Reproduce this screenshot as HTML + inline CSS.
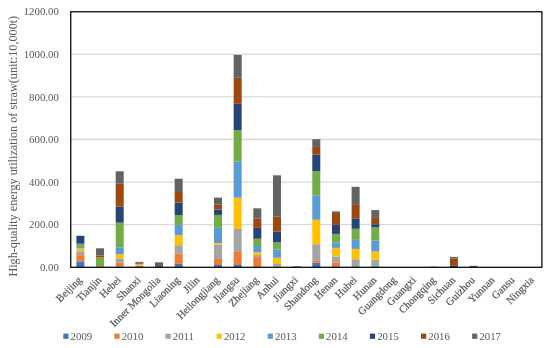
<!DOCTYPE html>
<html><head><meta charset="utf-8"><title>chart</title>
<style>
html,body{margin:0;padding:0;background:#fff;}
svg{display:block;}
text{font-family:"Liberation Serif",serif;fill:#595959;}
.xl text{fill:#555;stroke:#555;stroke-width:0.2px;}
</style></head><body>
<svg width="550" height="348" viewBox="0 0 550 348">
<rect x="0" y="0" width="550" height="348" fill="#fff"/>

<line x1="70.8" x2="541.9" y1="224.70" y2="224.70" stroke="#D9D9D9" stroke-width="1.3"/>
<line x1="70.8" x2="541.9" y1="182.10" y2="182.10" stroke="#D9D9D9" stroke-width="1.3"/>
<line x1="70.8" x2="541.9" y1="139.50" y2="139.50" stroke="#D9D9D9" stroke-width="1.3"/>
<line x1="70.8" x2="541.9" y1="96.90" y2="96.90" stroke="#D9D9D9" stroke-width="1.3"/>
<line x1="70.8" x2="541.9" y1="54.30" y2="54.30" stroke="#D9D9D9" stroke-width="1.3"/>
<rect x="76.38" y="261.40" width="8.0" height="5.80" fill="#4472C4"/>
<rect x="76.38" y="255.10" width="8.0" height="6.30" fill="#ED7D31"/>
<rect x="76.38" y="251.30" width="8.0" height="3.80" fill="#A5A5A5"/>
<rect x="76.38" y="248.30" width="8.0" height="3.00" fill="#FFC000"/>
<rect x="76.38" y="246.10" width="8.0" height="2.20" fill="#5B9BD5"/>
<rect x="76.38" y="243.70" width="8.0" height="2.40" fill="#70AD47"/>
<rect x="76.38" y="235.80" width="8.0" height="7.90" fill="#264478"/>
<rect x="96.04" y="266.00" width="8.0" height="1.20" fill="#ED7D31"/>
<rect x="96.04" y="257.50" width="8.0" height="8.50" fill="#70AD47"/>
<rect x="96.04" y="255.50" width="8.0" height="2.00" fill="#9E480E"/>
<rect x="96.04" y="248.30" width="8.0" height="7.20" fill="#636363"/>
<rect x="115.70" y="266.40" width="8.0" height="0.80" fill="#4472C4"/>
<rect x="115.70" y="262.70" width="8.0" height="3.70" fill="#ED7D31"/>
<rect x="115.70" y="258.80" width="8.0" height="3.90" fill="#A5A5A5"/>
<rect x="115.70" y="254.20" width="8.0" height="4.60" fill="#FFC000"/>
<rect x="115.70" y="247.30" width="8.0" height="6.90" fill="#5B9BD5"/>
<rect x="115.70" y="222.60" width="8.0" height="24.70" fill="#70AD47"/>
<rect x="115.70" y="206.60" width="8.0" height="16.00" fill="#264478"/>
<rect x="115.70" y="183.70" width="8.0" height="22.90" fill="#9E480E"/>
<rect x="115.70" y="171.30" width="8.0" height="12.40" fill="#636363"/>
<rect x="135.36" y="265.60" width="8.0" height="1.60" fill="#ED7D31"/>
<rect x="135.36" y="264.40" width="8.0" height="1.20" fill="#FFC000"/>
<rect x="135.36" y="263.60" width="8.0" height="0.80" fill="#5B9BD5"/>
<rect x="135.36" y="262.70" width="8.0" height="0.90" fill="#264478"/>
<rect x="135.36" y="261.90" width="8.0" height="0.80" fill="#9E480E"/>
<rect x="155.02" y="262.30" width="8.0" height="4.90" fill="#636363"/>
<rect x="174.68" y="263.80" width="8.0" height="3.40" fill="#4472C4"/>
<rect x="174.68" y="253.80" width="8.0" height="10.00" fill="#ED7D31"/>
<rect x="174.68" y="245.20" width="8.0" height="8.60" fill="#A5A5A5"/>
<rect x="174.68" y="235.20" width="8.0" height="10.00" fill="#FFC000"/>
<rect x="174.68" y="224.90" width="8.0" height="10.30" fill="#5B9BD5"/>
<rect x="174.68" y="215.00" width="8.0" height="9.90" fill="#70AD47"/>
<rect x="174.68" y="202.60" width="8.0" height="12.40" fill="#264478"/>
<rect x="174.68" y="192.00" width="8.0" height="10.60" fill="#9E480E"/>
<rect x="174.68" y="178.70" width="8.0" height="13.30" fill="#636363"/>
<rect x="214.00" y="265.00" width="8.0" height="2.20" fill="#4472C4"/>
<rect x="214.00" y="258.95" width="8.0" height="6.05" fill="#ED7D31"/>
<rect x="214.00" y="244.70" width="8.0" height="14.25" fill="#A5A5A5"/>
<rect x="214.00" y="243.00" width="8.0" height="1.70" fill="#FFC000"/>
<rect x="214.00" y="227.80" width="8.0" height="15.20" fill="#5B9BD5"/>
<rect x="214.00" y="214.90" width="8.0" height="12.90" fill="#70AD47"/>
<rect x="214.00" y="209.50" width="8.0" height="5.40" fill="#264478"/>
<rect x="214.00" y="204.65" width="8.0" height="4.85" fill="#9E480E"/>
<rect x="214.00" y="197.65" width="8.0" height="7.00" fill="#636363"/>
<rect x="233.66" y="265.00" width="8.0" height="2.20" fill="#4472C4"/>
<rect x="233.66" y="251.95" width="8.0" height="13.05" fill="#ED7D31"/>
<rect x="233.66" y="229.00" width="8.0" height="22.95" fill="#A5A5A5"/>
<rect x="233.66" y="197.65" width="8.0" height="31.35" fill="#FFC000"/>
<rect x="233.66" y="161.60" width="8.0" height="36.05" fill="#5B9BD5"/>
<rect x="233.66" y="130.25" width="8.0" height="31.35" fill="#70AD47"/>
<rect x="233.66" y="103.80" width="8.0" height="26.45" fill="#264478"/>
<rect x="233.66" y="77.80" width="8.0" height="26.00" fill="#9E480E"/>
<rect x="233.66" y="54.90" width="8.0" height="22.90" fill="#636363"/>
<rect x="253.32" y="257.10" width="8.0" height="10.10" fill="#ED7D31"/>
<rect x="253.32" y="255.10" width="8.0" height="2.00" fill="#A5A5A5"/>
<rect x="253.32" y="252.10" width="8.0" height="3.00" fill="#FFC000"/>
<rect x="253.32" y="246.00" width="8.0" height="6.10" fill="#5B9BD5"/>
<rect x="253.32" y="238.70" width="8.0" height="7.30" fill="#70AD47"/>
<rect x="253.32" y="227.90" width="8.0" height="10.80" fill="#264478"/>
<rect x="253.32" y="218.50" width="8.0" height="9.40" fill="#9E480E"/>
<rect x="253.32" y="208.30" width="8.0" height="10.20" fill="#636363"/>
<rect x="272.98" y="266.50" width="8.0" height="0.70" fill="#ED7D31"/>
<rect x="272.98" y="264.00" width="8.0" height="2.50" fill="#A5A5A5"/>
<rect x="272.98" y="257.70" width="8.0" height="6.30" fill="#FFC000"/>
<rect x="272.98" y="249.50" width="8.0" height="8.20" fill="#5B9BD5"/>
<rect x="272.98" y="242.40" width="8.0" height="7.10" fill="#70AD47"/>
<rect x="272.98" y="231.50" width="8.0" height="10.90" fill="#264478"/>
<rect x="272.98" y="216.70" width="8.0" height="14.80" fill="#9E480E"/>
<rect x="272.98" y="175.30" width="8.0" height="41.40" fill="#636363"/>
<rect x="292.64" y="266.60" width="8.0" height="0.60" fill="#FFC000"/>
<rect x="292.64" y="266.00" width="8.0" height="0.60" fill="#9E480E"/>
<rect x="312.30" y="262.60" width="8.0" height="4.60" fill="#4472C4"/>
<rect x="312.30" y="260.20" width="8.0" height="2.40" fill="#ED7D31"/>
<rect x="312.30" y="244.20" width="8.0" height="16.00" fill="#A5A5A5"/>
<rect x="312.30" y="219.70" width="8.0" height="24.50" fill="#FFC000"/>
<rect x="312.30" y="195.60" width="8.0" height="24.10" fill="#5B9BD5"/>
<rect x="312.30" y="171.10" width="8.0" height="24.50" fill="#70AD47"/>
<rect x="312.30" y="154.55" width="8.0" height="16.55" fill="#264478"/>
<rect x="312.30" y="146.95" width="8.0" height="7.60" fill="#9E480E"/>
<rect x="312.30" y="139.10" width="8.0" height="7.85" fill="#636363"/>
<rect x="331.96" y="262.30" width="8.0" height="4.90" fill="#ED7D31"/>
<rect x="331.96" y="256.50" width="8.0" height="5.80" fill="#A5A5A5"/>
<rect x="331.96" y="247.85" width="8.0" height="8.65" fill="#FFC000"/>
<rect x="331.96" y="242.40" width="8.0" height="5.45" fill="#5B9BD5"/>
<rect x="331.96" y="233.90" width="8.0" height="8.50" fill="#70AD47"/>
<rect x="331.96" y="224.90" width="8.0" height="9.00" fill="#264478"/>
<rect x="331.96" y="212.85" width="8.0" height="12.05" fill="#9E480E"/>
<rect x="331.96" y="211.30" width="8.0" height="1.55" fill="#636363"/>
<rect x="351.62" y="259.20" width="8.0" height="8.00" fill="#A5A5A5"/>
<rect x="351.62" y="248.90" width="8.0" height="10.30" fill="#FFC000"/>
<rect x="351.62" y="239.90" width="8.0" height="9.00" fill="#5B9BD5"/>
<rect x="351.62" y="228.80" width="8.0" height="11.10" fill="#70AD47"/>
<rect x="351.62" y="218.30" width="8.0" height="10.50" fill="#264478"/>
<rect x="351.62" y="204.90" width="8.0" height="13.40" fill="#9E480E"/>
<rect x="351.62" y="186.80" width="8.0" height="18.10" fill="#636363"/>
<rect x="371.28" y="259.55" width="8.0" height="7.65" fill="#A5A5A5"/>
<rect x="371.28" y="251.50" width="8.0" height="8.05" fill="#FFC000"/>
<rect x="371.28" y="240.60" width="8.0" height="10.90" fill="#5B9BD5"/>
<rect x="371.28" y="227.30" width="8.0" height="13.30" fill="#70AD47"/>
<rect x="371.28" y="224.20" width="8.0" height="3.10" fill="#264478"/>
<rect x="371.28" y="217.90" width="8.0" height="6.30" fill="#9E480E"/>
<rect x="371.28" y="210.10" width="8.0" height="7.80" fill="#636363"/>
<rect x="430.26" y="266.70" width="8.0" height="0.50" fill="#636363"/>
<rect x="449.92" y="265.30" width="8.0" height="1.90" fill="#264478"/>
<rect x="449.92" y="258.70" width="8.0" height="6.60" fill="#9E480E"/>
<rect x="449.92" y="256.90" width="8.0" height="1.80" fill="#636363"/>
<rect x="469.58" y="265.80" width="8.0" height="1.40" fill="#636363"/>
<rect x="70.75" y="11.75" width="471.15" height="255.55" fill="none" stroke="#000" stroke-width="1.25"/>
<text x="58.8" y="271.05" font-size="10.8" text-anchor="end">0.00</text>
<text x="58.8" y="228.45" font-size="10.8" text-anchor="end">200.00</text>
<text x="58.8" y="185.85" font-size="10.8" text-anchor="end">400.00</text>
<text x="58.8" y="143.25" font-size="10.8" text-anchor="end">600.00</text>
<text x="58.8" y="100.65" font-size="10.8" text-anchor="end">800.00</text>
<text x="58.8" y="58.05" font-size="10.8" text-anchor="end">1000.00</text>
<text x="58.8" y="15.45" font-size="10.8" text-anchor="end">1200.00</text>
<text transform="translate(16.6,146.2) rotate(-90)" font-size="12.2" text-anchor="middle">High-quality energy utilization of straw(unit:10,000t)</text>
<g class="xl">
<text transform="translate(82.38,280.70) rotate(-45)" font-size="10.6" text-anchor="end">Beijing</text>
<text transform="translate(102.04,280.70) rotate(-45)" font-size="10.6" text-anchor="end">Tianjin</text>
<text transform="translate(121.70,280.70) rotate(-45)" font-size="10.6" text-anchor="end">Hebei</text>
<text transform="translate(141.36,280.70) rotate(-45)" font-size="10.6" text-anchor="end">Shanxi</text>
<text transform="translate(161.02,280.70) rotate(-45)" font-size="10.6" text-anchor="end">Inner Mongolia</text>
<text transform="translate(180.68,280.70) rotate(-45)" font-size="10.6" text-anchor="end">Liaoning</text>
<text transform="translate(200.34,280.70) rotate(-45)" font-size="10.6" text-anchor="end">Jilin</text>
<text transform="translate(220.00,280.70) rotate(-45)" font-size="10.6" text-anchor="end">Heilongjiang</text>
<text transform="translate(239.66,280.70) rotate(-45)" font-size="10.6" text-anchor="end">Jiangsu</text>
<text transform="translate(259.32,280.70) rotate(-45)" font-size="10.6" text-anchor="end">Zhejiang</text>
<text transform="translate(278.98,280.70) rotate(-45)" font-size="10.6" text-anchor="end">Anhui</text>
<text transform="translate(298.64,280.70) rotate(-45)" font-size="10.6" text-anchor="end">Jiangxi</text>
<text transform="translate(318.30,280.70) rotate(-45)" font-size="10.6" text-anchor="end">Shandong</text>
<text transform="translate(337.96,280.70) rotate(-45)" font-size="10.6" text-anchor="end">Henan</text>
<text transform="translate(357.62,280.70) rotate(-45)" font-size="10.6" text-anchor="end">Hubei</text>
<text transform="translate(377.28,280.70) rotate(-45)" font-size="10.6" text-anchor="end">Hunan</text>
<text transform="translate(396.94,280.70) rotate(-45)" font-size="10.6" text-anchor="end">Guangdong</text>
<text transform="translate(416.60,280.70) rotate(-45)" font-size="10.6" text-anchor="end">Guangxi</text>
<text transform="translate(436.26,280.70) rotate(-45)" font-size="10.6" text-anchor="end">Chongqing</text>
<text transform="translate(455.92,280.70) rotate(-45)" font-size="10.6" text-anchor="end">Sichuan</text>
<text transform="translate(475.58,280.70) rotate(-45)" font-size="10.6" text-anchor="end">Guizhou</text>
<text transform="translate(495.24,280.70) rotate(-45)" font-size="10.6" text-anchor="end">Yunnan</text>
<text transform="translate(514.90,280.70) rotate(-45)" font-size="10.6" text-anchor="end">Gansu</text>
<text transform="translate(534.56,280.70) rotate(-45)" font-size="10.6" text-anchor="end">Ningxia</text>
</g>
<rect x="63.30" y="333.6" width="5.2" height="5.2" fill="#4472C4"/>
<text x="70.60" y="339.8" font-size="10.8">2009</text>
<rect x="114.40" y="333.6" width="5.2" height="5.2" fill="#ED7D31"/>
<text x="121.70" y="339.8" font-size="10.8">2010</text>
<rect x="165.50" y="333.6" width="5.2" height="5.2" fill="#A5A5A5"/>
<text x="172.80" y="339.8" font-size="10.8">2011</text>
<rect x="216.60" y="333.6" width="5.2" height="5.2" fill="#FFC000"/>
<text x="223.90" y="339.8" font-size="10.8">2012</text>
<rect x="267.70" y="333.6" width="5.2" height="5.2" fill="#5B9BD5"/>
<text x="275.00" y="339.8" font-size="10.8">2013</text>
<rect x="318.80" y="333.6" width="5.2" height="5.2" fill="#70AD47"/>
<text x="326.10" y="339.8" font-size="10.8">2014</text>
<rect x="369.90" y="333.6" width="5.2" height="5.2" fill="#264478"/>
<text x="377.20" y="339.8" font-size="10.8">2015</text>
<rect x="421.00" y="333.6" width="5.2" height="5.2" fill="#9E480E"/>
<text x="428.30" y="339.8" font-size="10.8">2016</text>
<rect x="472.10" y="333.6" width="5.2" height="5.2" fill="#636363"/>
<text x="479.40" y="339.8" font-size="10.8">2017</text>
</svg></body></html>
